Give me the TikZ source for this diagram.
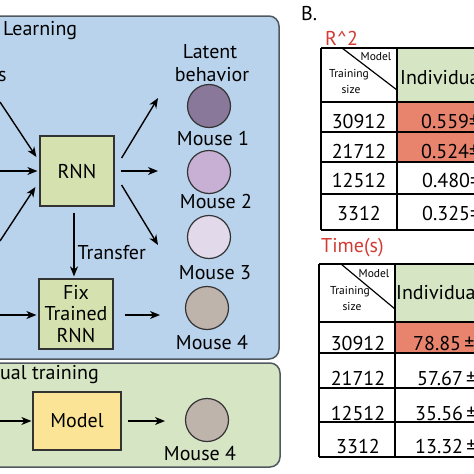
\documentclass[tikz,border=0pt]{standalone}
\usepackage{fontspec}
\setmainfont{PT Sans}
\usetikzlibrary{arrows.meta,calc}
\definecolor{bluep}{HTML}{BAD3EC}
\definecolor{greenp}{HTML}{D6E5C4}
\definecolor{boxg}{HTML}{D5E2AF}
\definecolor{boxy}{HTML}{FCE496}
\definecolor{mA}{HTML}{897899}
\definecolor{mB}{HTML}{C8B0D4}
\definecolor{mC}{HTML}{E2DAEA}
\definecolor{mD}{HTML}{BEB4AC}
\definecolor{salmon}{HTML}{E8846E}
\definecolor{redt}{HTML}{D23A34}
\definecolor{pborder}{HTML}{505860}
\begin{document}
\begin{tikzpicture}[x=1pt,y=-1pt,
  panel/.style={draw=pborder,line width=1.5pt,rounded corners=10pt},
  box/.style={draw=black!80,line width=1.2pt,inner sep=0pt,align=center,
    font=\fontsize{20}{21.5}\selectfont},
  mouse/.style={circle,draw=black!80,line width=1.2pt,minimum size=43pt,inner sep=0pt},
  lbl/.style={inner sep=0pt,anchor=base,font=\fontsize{20}{22}\selectfont},
  small/.style={inner sep=0pt,anchor=base,font=\fontsize{11.5}{13}\selectfont},
  arr/.style={line width=1.4pt,-{Stealth[length=10pt,width=8pt,inset=3pt]}},
  tline/.style={line width=1.4pt,black}]
\useasboundingbox (0,0) rectangle (474,474);
\clip (0,0) rectangle (474,474);
% panels
\draw[panel,fill=bluep] (-20,16) rectangle (279,359);
\draw[panel,fill=greenp] (-20,363) rectangle (280,467);
\node[lbl,anchor=base west] (tl) at (3,35) {Learning};
\node[lbl,anchor=base west] (ts) at (-2,81) {s};
\node[lbl,anchor=base west] (tit) at (0,379) {ual training};
% boxes
\node[box,fill=boxg,minimum width=74pt,minimum height=70pt] (rnn) at (77,171) {RNN};
\node[box,fill=boxg,minimum width=74pt,minimum height=70pt] (fix) at (76,314) {Fix\\Trained\\RNN};
\node[box,fill=boxy,minimum width=88pt,minimum height=58pt] (model) at (77,421) {Model};
% circles
\node[mouse,fill=mA] (m1) at (209,106) {};
\node[mouse,fill=mB] (m2) at (209,172) {};
\node[mouse,fill=mC] (m3) at (209,237) {};
\node[mouse,fill=mD] (m4) at (207,308) {};
\node[mouse,fill=mD] (m5) at (207,420) {};
% labels
\node[lbl] (lat) at (210,58) {Latent};
\node[lbl] (beh) at (212,81) {behavior};
\node[lbl] (l1) at (213,145) {Mouse 1};
\node[lbl] (l2) at (216,208) {Mouse 2};
\node[lbl] (l3) at (215,279) {Mouse 3};
\node[lbl] (l4) at (212,349) {Mouse 4};
\node[lbl] (l5) at (200,460) {Mouse 4};
% free ends
\coordinate (i1) at (0,102);
\coordinate (i2) at (-5,171);
\coordinate (i3) at (0,241);
\coordinate (i4) at (-5,315);
\coordinate (i5) at (-5,421);
\coordinate (o1) at (158,98);
\coordinate (o2) at (158,171);
\coordinate (o3) at (158,245);
\coordinate (o4) at (160,315);
\coordinate (o5) at (165,421);
% arrows
\draw[arr] (i1) -- ([xshift=-3pt,yshift=14pt]rnn.west);
\draw[arr] (i2) -- ([xshift=-2pt]rnn.west);
\draw[arr] (i3) -- ([xshift=-4pt,yshift=-16pt]rnn.west);
\draw[arr] ([xshift=7pt,yshift=13pt]rnn.east) -- (o1);
\draw[arr] ([xshift=6pt]rnn.east) -- (o2);
\draw[arr] ([xshift=7pt,yshift=-14pt]rnn.east) -- (o3);
\draw[arr] ([xshift=-3pt,yshift=-6pt]rnn.south) -- node[lbl,anchor=base west,pos=0.62,xshift=3pt,yshift=-7pt] (tr) {Transfer} ([xshift=-2pt,yshift=2pt]fix.north);
\draw[arr] (i4) -- ([xshift=-2pt,yshift=-1pt]fix.west);
\draw[arr] ([xshift=11pt,yshift=-1pt]fix.east) -- (o4);
\draw[arr] (i5) -- ([xshift=-1pt]model.west);
\draw[arr] ([xshift=6pt]model.east) -- (o5);
% right part
\node[lbl,anchor=base west] (bl) at (301,20) {B.};
\node[lbl,anchor=base west,text=redt] (r2) at (325,45) {R\^{}2};
\node[lbl,anchor=base west,text=redt] (tm) at (321,252) {Time(s)};
% table 1
\fill[greenp] (397,48) rectangle (480,102);
\fill[salmon] (397,102) rectangle (480,162);
\foreach \yy in {48,102,132,162,194,230} \draw[tline] (321,\yy) -- (480,\yy);
\draw[tline] (321,48) -- (321,230);
\draw[tline] (397,48) -- (397,230);
\draw[line width=1.2pt] (342,48) -- (397,90);
\node[small] (a1) at (376,60) {Model};
\node[small] (a2) at (349,77) {Training};
\node[small] (a3) at (351,93) {size};
\node[lbl,anchor=base west] (h1) at (400,84) {Individual};
\node[lbl] (r11) at (359,128) {30912};
\node[lbl] (r12) at (359,158) {21712};
\node[lbl] (r13) at (359,187) {12512};
\node[lbl] (r14) at (359,220) {3312};
\node[lbl,anchor=base west] (v11) at (421,128) {0.559±};
\node[lbl,anchor=base west] (v12) at (421,158) {0.524±};
\node[lbl,anchor=base west] (v13) at (422,187) {0.480±};
\node[lbl,anchor=base west] (v14) at (422,220) {0.325±};
% table 2
\fill[greenp] (395,264) rectangle (480,322);
\fill[salmon] (395,322) rectangle (480,353);
\foreach \yy in {264,322,353,388,422,457} \draw[tline] (319,\yy) -- (480,\yy);
\draw[tline] (319,264) -- (319,457);
\draw[tline] (395,264) -- (395,457);
\draw[line width=1.2pt] (341,264) -- (395,309);
\node[small] (b1) at (374,277) {Model};
\node[small] (b2) at (350,294) {Training};
\node[small] (b3) at (352,310) {size};
\node[lbl,anchor=base west] (h2) at (396,299) {Individual};
\node[lbl] (s11) at (358,350) {30912};
\node[lbl] (s12) at (358,385) {21712};
\node[lbl] (s13) at (358,420) {12512};
\node[lbl] (s14) at (358,453) {3312};
\node[lbl,anchor=base west] (w11) at (413,350) {78.85\,±};
\node[lbl,anchor=base west] (w12) at (417,385) {57.67\,±};
\node[lbl,anchor=base west] (w13) at (415,420) {35.56\,±};
\node[lbl,anchor=base west] (w14) at (415,453) {13.32\,±};
\end{tikzpicture}
\end{document}
